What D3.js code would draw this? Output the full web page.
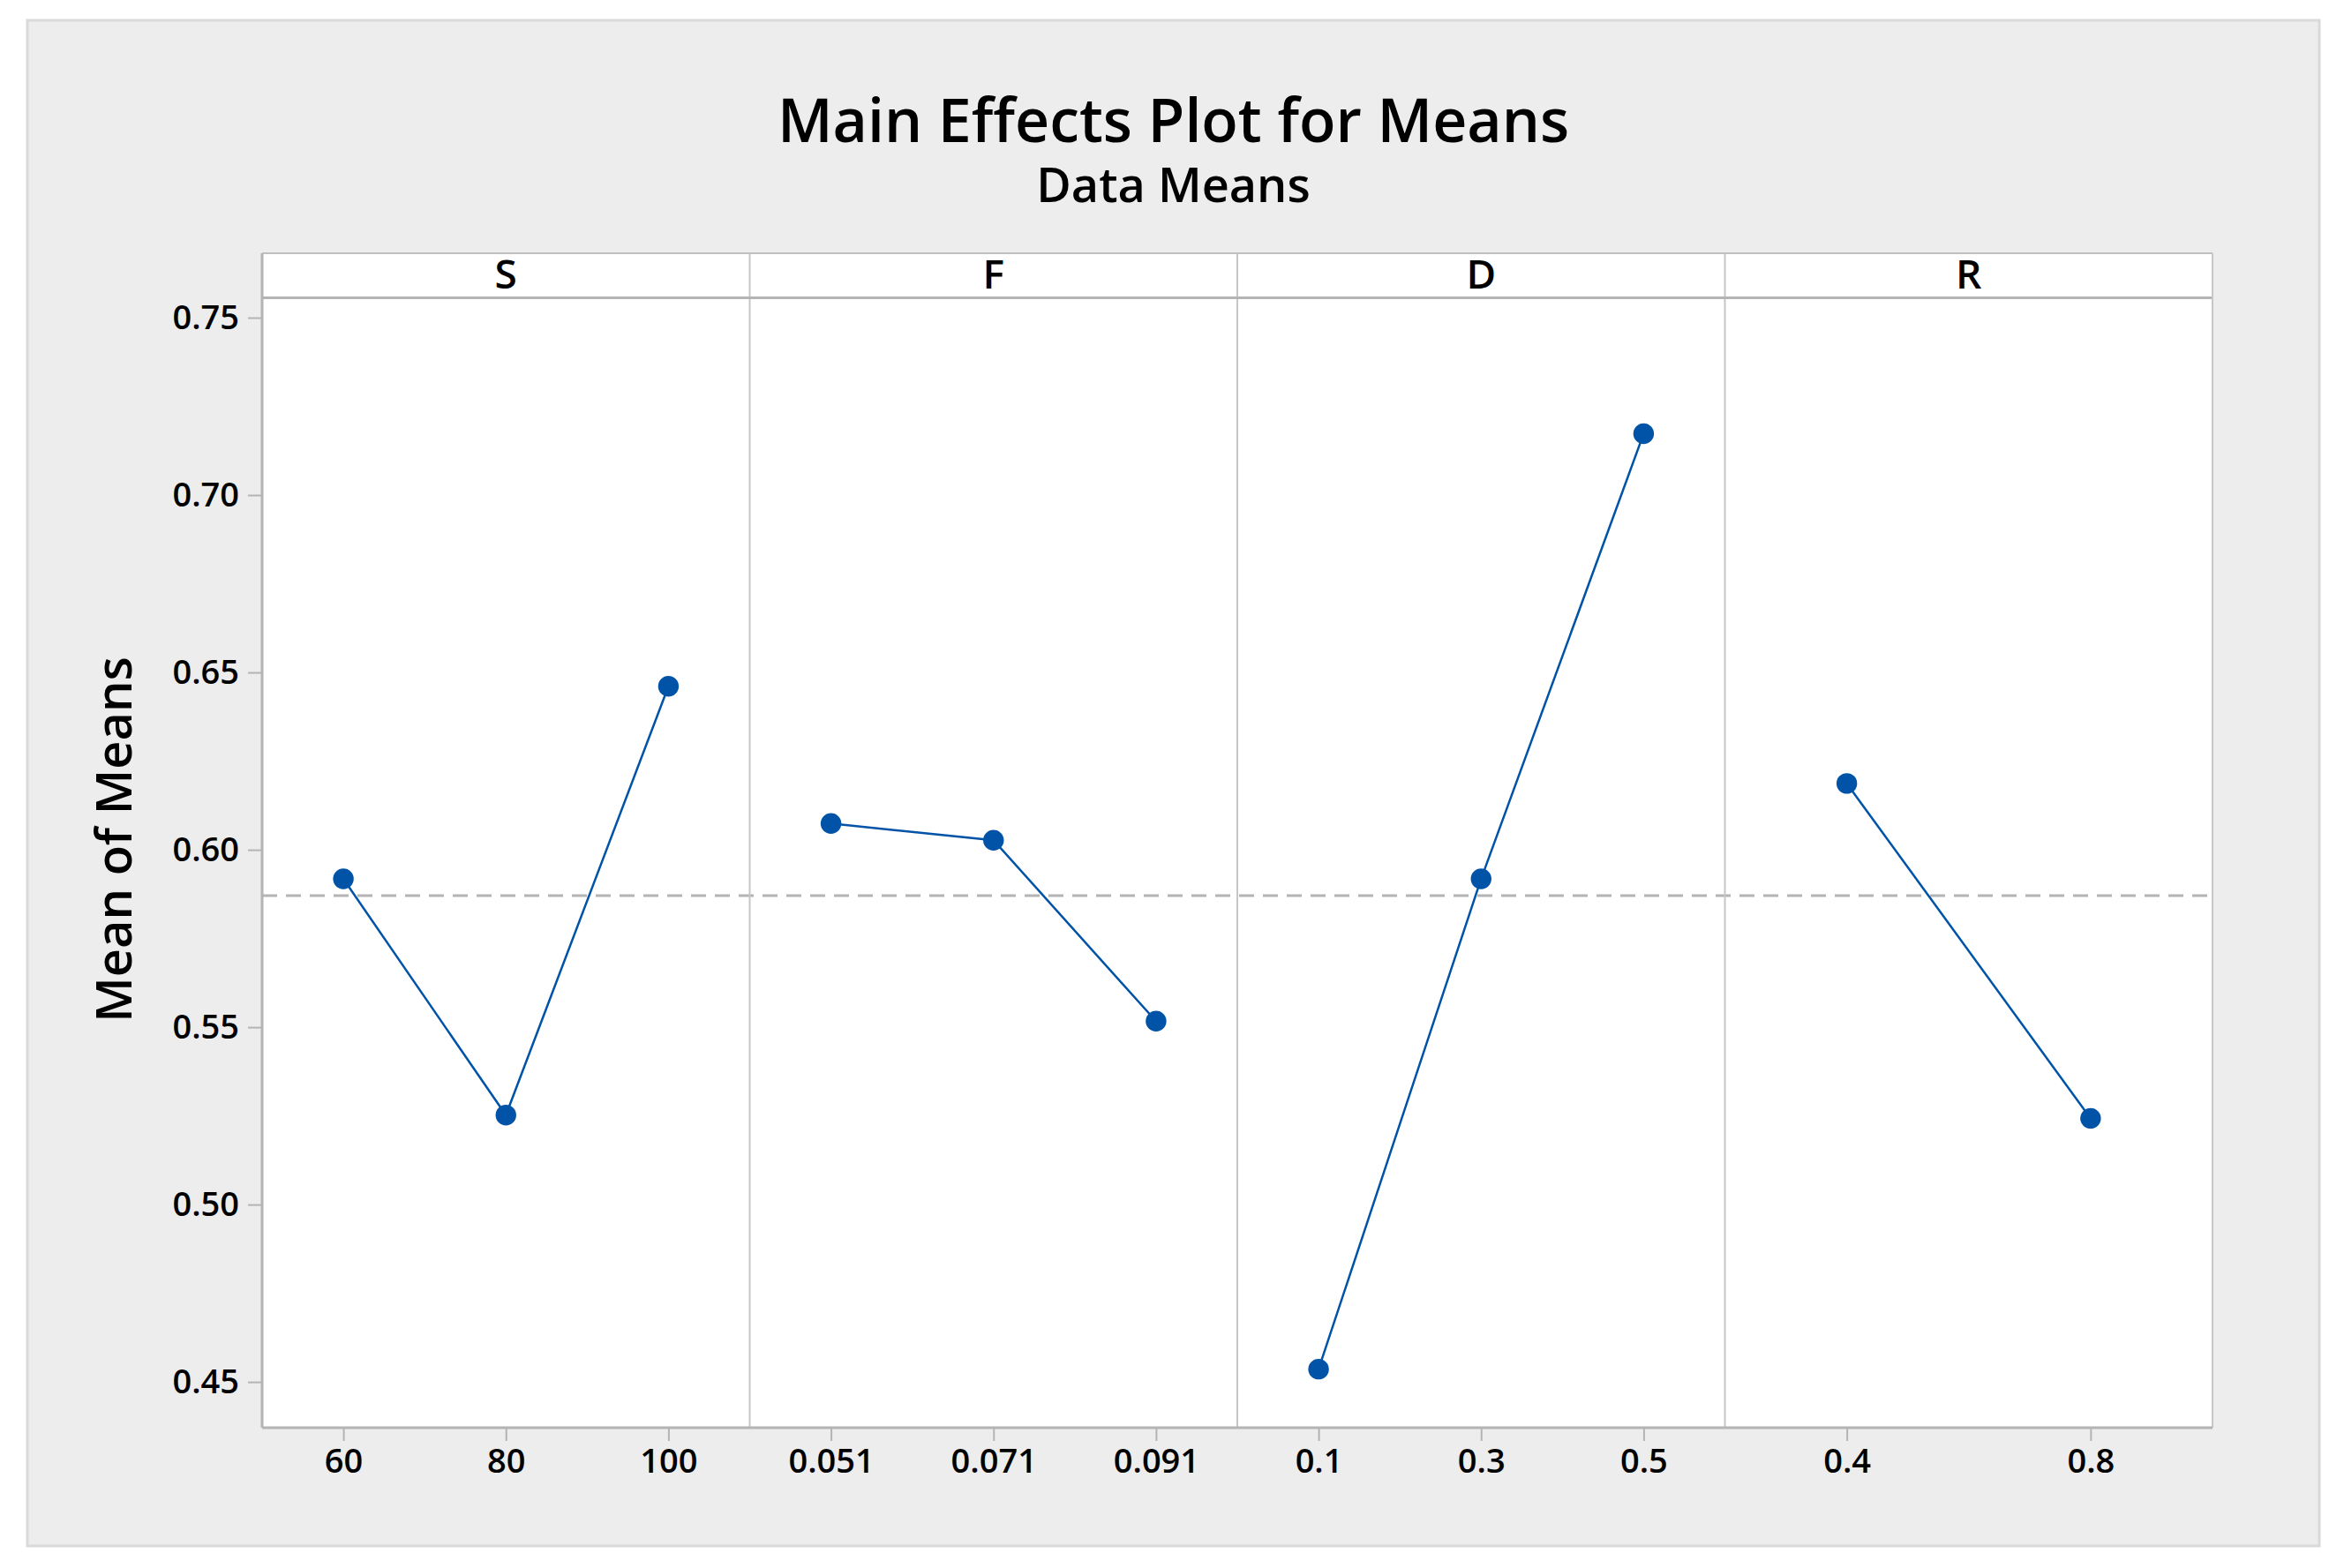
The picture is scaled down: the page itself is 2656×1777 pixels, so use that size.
<!DOCTYPE html>
<html>
<head>
<meta charset="utf-8">
<script src="https://cdn.jsdelivr.net/npm/d3@7"></script>
<style>
  html, body { margin: 0; padding: 0; background: #ffffff; }
  svg { display: block; }
  text { font-family: "Open Sans", "Noto Sans", sans-serif; fill: #000; }
</style>
</head>
<body>
<script>
// ---- Data ----
const factors = ["S", "F", "D", "R"];
const levelsS = ["60", "80", "100"];
const meansS  = [0.5918, 0.5252, 0.6461];
const levelsF = ["0.051", "0.071", "0.091"];
const meansF  = [0.6074, 0.6027, 0.5517];
const levelsD = ["0.1", "0.3", "0.5"];
const meansD  = [0.4536, 0.5918, 0.7173];
const levelsR = ["0.4", "0.8"];
const meansR  = [0.6187, 0.5243];
const grandMean = 0.5871;
const yTicks = [0.45, 0.50, 0.55, 0.60, 0.65, 0.70, 0.75];
const titleText = "Main Effects Plot for Means";
const subtitleText = "Data Means";
const yLabel = "Mean of Means";

const panels = [
  { name: factors[0], levels: levelsS, means: meansS },
  { name: factors[1], levels: levelsF, means: meansF },
  { name: factors[2], levels: levelsD, means: meansD },
  { name: factors[3], levels: levelsR, means: meansR }
];

// ---- Layout ----
const W = 2656, H = 1777;
const plotL = 297, plotR = 2507, stripTop = 287, plotTop = 337.5, plotB = 1618;
const blue = "#0053a6";
const frameGray = "#b4b4b4";
const divGray = "#c6c6c6";

const svg = d3.select("body").append("svg").attr("width", W).attr("height", H);

// background panel
svg.append("rect").attr("x", 31).attr("y", 23).attr("width", 2597).attr("height", 1729)
  .attr("fill", "#ededed").attr("stroke", "#d9d9d9").attr("stroke-width", 3);

// titles
svg.append("text").attr("x", 1329.5).attr("y", 161).attr("text-anchor", "middle")
  .attr("font-size", 68).attr("font-weight", 600).text(titleText);
svg.append("text").attr("x", 1329.5).attr("y", 229).attr("text-anchor", "middle")
  .attr("font-size", 54).attr("font-weight", 600).text(subtitleText);

// y scale (shared)
const y = d3.scaleLinear().domain([0.4371, 0.7556]).range([plotB, plotTop]);

// plot area white
svg.append("rect").attr("x", plotL).attr("y", stripTop).attr("width", plotR - plotL)
  .attr("height", plotB - stripTop).attr("fill", "#fff");

const band = d3.scaleBand().domain(factors).range([plotL, plotR]).padding(0);

// grand mean dashed line
svg.append("line").attr("x1", plotL).attr("x2", plotR)
  .attr("y1", y(grandMean)).attr("y2", y(grandMean))
  .attr("stroke", "#b4b4b4").attr("stroke-width", 3).attr("stroke-dasharray", "17,10");

// panel dividers
factors.slice(1).forEach(f => {
  svg.append("line").attr("x1", band(f)).attr("x2", band(f))
    .attr("y1", stripTop).attr("y2", plotB)
    .attr("stroke", divGray).attr("stroke-width", 2);
});

// strip lines
svg.append("line").attr("x1", plotL).attr("x2", plotR).attr("y1", stripTop).attr("y2", stripTop)
  .attr("stroke", "#c0c0c0").attr("stroke-width", 2);
svg.append("line").attr("x1", plotL).attr("x2", plotR).attr("y1", plotTop).attr("y2", plotTop)
  .attr("stroke", frameGray).attr("stroke-width", 3);
// right border
svg.append("line").attr("x1", plotR).attr("x2", plotR).attr("y1", stripTop).attr("y2", plotB)
  .attr("stroke", divGray).attr("stroke-width", 2);

panels.forEach(p => {
  const x0 = band(p.name);
  const x = d3.scalePoint().domain(p.levels).range([x0, x0 + band.bandwidth()]).padding(0.5);

  // strip label
  svg.append("text").attr("x", x0 + band.bandwidth() / 2).attr("y", 327)
    .attr("text-anchor", "middle").attr("font-size", 46).attr("font-weight", 600).text(p.name);

  // x axis
  const gx = svg.append("g").attr("transform", `translate(0,${plotB})`)
    .call(d3.axisBottom(x).tickSize(15).tickPadding(9));
  gx.select(".domain").remove();
  gx.selectAll(".tick line").attr("stroke", frameGray).attr("stroke-width", 2);
  gx.selectAll(".tick text").attr("font-size", 38).attr("font-weight", 600)
    .attr("font-family", "'Open Sans', sans-serif").attr("fill", "#000");

  const pts = p.levels.map((l, i) => ({ l, v: p.means[i] }));
  svg.append("path").datum(pts)
    .attr("d", d3.line().x(d => x(d.l)).y(d => y(d.v)))
    .attr("fill", "none").attr("stroke", blue).attr("stroke-width", 2.5);
  svg.selectAll(null).data(pts).enter().append("circle")
    .attr("cx", d => x(d.l)).attr("cy", d => y(d.v)).attr("r", 11.7).attr("fill", blue);
});

// bottom frame line
svg.append("line").attr("x1", plotL).attr("x2", plotR).attr("y1", plotB).attr("y2", plotB)
  .attr("stroke", frameGray).attr("stroke-width", 3);

// y axis
const gy = svg.append("g").attr("transform", `translate(${plotL},0)`)
  .call(d3.axisLeft(y).tickValues(yTicks).tickFormat(d3.format(".2f")).tickSize(16).tickPadding(10));
gy.select(".domain").remove();
gy.selectAll(".tick line").attr("stroke", frameGray).attr("stroke-width", 2);
gy.selectAll(".tick text").attr("font-size", 38).attr("font-weight", 600)
  .attr("font-family", "'Open Sans', sans-serif").attr("fill", "#000");
svg.append("line").attr("x1", plotL).attr("x2", plotL).attr("y1", stripTop).attr("y2", plotB)
  .attr("stroke", frameGray).attr("stroke-width", 3);

// y label
svg.append("text").attr("transform", `translate(149,951.5) rotate(-90)`)
  .attr("text-anchor", "middle").attr("font-size", 56).attr("font-weight", 600).text(yLabel);
</script>
</body>
</html>
